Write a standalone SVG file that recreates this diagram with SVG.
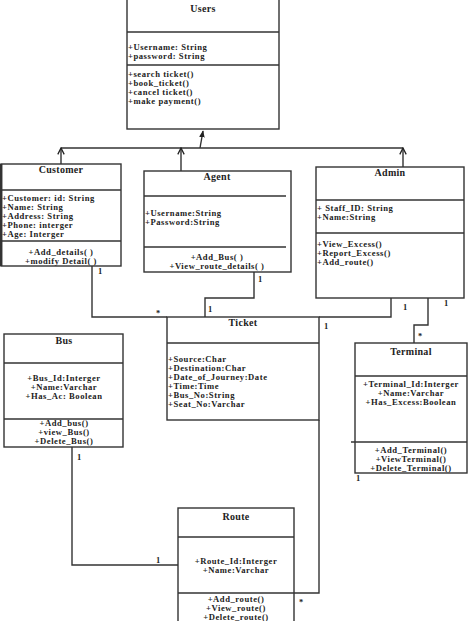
<svg xmlns="http://www.w3.org/2000/svg" width="474" height="621" viewBox="0 0 474 621">
<defs>
<style>
.box{fill:#fff;stroke:#333;stroke-width:1.4}
.div{stroke:#333;stroke-width:1.4;fill:none}
.con{stroke:#333;stroke-width:1.4;fill:none}
text{font-family:"Liberation Serif","Times New Roman",serif;font-weight:bold;font-size:8.6px;letter-spacing:0.55px;fill:#222}
.t{font-size:10px;letter-spacing:0.3px;text-anchor:middle}
.c{text-anchor:middle}
.m{font-size:8.5px;letter-spacing:0}
</style>
<marker id="open" viewBox="0 0 10 10" refX="9" refY="5" markerWidth="8" markerHeight="8" orient="auto" markerUnits="userSpaceOnUse">
<path d="M1,1 L9,5 L1,9" fill="none" stroke="#222" stroke-width="1.6"/>
</marker>
<marker id="fill" viewBox="0 0 10 10" refX="9" refY="5" markerWidth="7" markerHeight="7" orient="auto" markerUnits="userSpaceOnUse">
<path d="M0,1 L10,5 L0,9 Z" fill="#222"/>
</marker>
</defs>
<rect width="474" height="621" fill="#fff"/>

<g id="connectors">
<line class="con" x1="200" y1="148" x2="203" y2="131" marker-end="url(#fill)"/>
<line class="con" x1="61" y1="148" x2="403" y2="148"/>
<line class="con" x1="61" y1="164" x2="61" y2="148" marker-end="url(#open)"/>
<line class="con" x1="181" y1="171" x2="181" y2="148" marker-end="url(#open)"/>
<line class="con" x1="403" y1="167" x2="403" y2="148" marker-end="url(#open)"/>
<polyline class="con" points="92,266 92,317 167,317"/>
<polyline class="con" points="254,272 254,298 205,298 205,317"/>
<polyline class="con" points="391,298 391,317 319,317"/>
<polyline class="con" points="428,298 428,325 414,325 414,343"/>
<polyline class="con" points="319,420 319,593 294,593"/>
<polyline class="con" points="72,447 72,565 178,565"/>
<text class="m" x="98" y="274">1</text>
<text class="m" x="156" y="316">*</text>
<text class="m" x="258" y="282">1</text>
<text class="m" x="208" y="312">1</text>
<text class="m" x="403" y="310">1</text>
<text class="m" x="324" y="329">1</text>
<text class="m" x="444" y="306">1</text>
<text class="m" x="418" y="339">*</text>
<text class="m" x="356" y="481">1</text>
<text class="m" x="77" y="460">1</text>
<text class="m" x="156" y="563">1</text>
<text class="m" x="299" y="605">*</text>
</g>

<g id="users">
<rect class="box" x="127" y="-1" width="152" height="130"/>
<line class="div" x1="127" y1="32" x2="279" y2="32"/>
<line class="div" x1="127" y1="65" x2="279" y2="65"/>
<text class="t" x="203" y="12">Users</text>
<text x="128" y="50">+Username: String</text>
<text x="128" y="59">+password: String</text>
<text x="128" y="77">+search ticket()</text>
<text x="128" y="86">+book_ticket()</text>
<text x="128" y="95">+cancel ticket()</text>
<text x="128" y="104">+make payment()</text>
</g>

<g id="customer">
<rect class="box" x="1" y="164" width="120" height="102"/>
<line x1="1.2" y1="164" x2="1.2" y2="266" stroke="#333" stroke-width="2.5"/>
<line class="div" x1="1" y1="190" x2="121" y2="190"/>
<line class="div" x1="1" y1="241" x2="121" y2="241"/>
<text class="t" x="61" y="173">Customer</text>
<text x="2" y="200.5">+Customer: id: String</text>
<text x="2" y="209.5">+Name: String</text>
<text x="2" y="218.5">+Address: String</text>
<text x="2" y="227.5">+Phone: interger</text>
<text x="2" y="236.5">+Age: Interger</text>
<text class="c" x="61" y="255">+Add_details( )</text>
<text class="c" x="61" y="264">+modify Detail( )</text>
</g>

<g id="agent">
<rect class="box" x="144" y="171" width="147" height="101"/>
<line class="div" x1="144" y1="196" x2="286" y2="196"/>
<line class="div" x1="144" y1="247" x2="286" y2="247"/>
<text class="t" x="217" y="180">Agent</text>
<text x="145" y="216">+Username:String</text>
<text x="145" y="225">+Password:String</text>
<text class="c" x="217" y="260">+Add_Bus( )</text>
<text class="c" x="217" y="269">+View_route_details( )</text>
</g>

<g id="admin">
<rect class="box" x="316" y="167" width="148" height="131"/>
<line class="div" x1="316" y1="200" x2="464" y2="200"/>
<line class="div" x1="316" y1="233" x2="464" y2="233"/>
<text class="t" x="390" y="176">Admin</text>
<text x="317" y="211">+ Staff_ID: String</text>
<text x="317" y="220">+Name:String</text>
<text x="317" y="247">+View_Excess()</text>
<text x="317" y="256">+Report_Excess()</text>
<text x="317" y="265">+Add_route()</text>
</g>

<g id="ticket">
<rect class="box" x="167" y="317" width="152" height="103"/>
<line class="div" x1="167" y1="343" x2="319" y2="343"/>
<text class="t" x="243" y="326">Ticket</text>
<text x="168" y="362">+Source:Char</text>
<text x="168" y="371">+Destination:Char</text>
<text x="168" y="380">+Date_of_Journey:Date</text>
<text x="168" y="389">+Time:Time</text>
<text x="168" y="398">+Bus_No:String</text>
<text x="168" y="407">+Seat_No:Varchar</text>
</g>

<g id="bus">
<rect class="box" x="4" y="334" width="119" height="113"/>
<line class="div" x1="4" y1="363" x2="123" y2="363"/>
<line class="div" x1="4" y1="419" x2="123" y2="419"/>
<text class="t" x="64" y="344">Bus</text>
<text class="c" x="64" y="381">+Bus_Id:Interger</text>
<text class="c" x="64" y="390">+Name:Varchar</text>
<text class="c" x="64" y="399">+Has_Ac: Boolean</text>
<text class="c" x="64" y="426">+Add_bus()</text>
<text class="c" x="64" y="435">+view_Bus()</text>
<text class="c" x="64" y="444">+Delete_Bus()</text>
</g>

<g id="terminal">
<rect class="box" x="355" y="343" width="112" height="130"/>
<line class="div" x1="355" y1="376" x2="467" y2="376"/>
<line class="div" x1="351" y1="442" x2="467" y2="442"/>
<text class="t" x="411" y="355">Terminal</text>
<text class="c" x="411" y="387">+Terminal_Id:Interger</text>
<text class="c" x="411" y="396">+Name:Varchar</text>
<text class="c" x="411" y="405">+Has_Excess:Boolean</text>
<text class="c" x="411" y="453">+Add_Terminal()</text>
<text class="c" x="411" y="462">+ViewTerminal()</text>
<text class="c" x="411" y="471">+Delete_Terminal()</text>
</g>

<g id="route">
<rect class="box" x="178" y="508" width="116" height="120"/>
<line class="div" x1="178" y1="537" x2="294" y2="537"/>
<line class="div" x1="178" y1="593" x2="294" y2="593"/>
<text class="t" x="236" y="520">Route</text>
<text class="c" x="236" y="564">+Route_Id:Interger</text>
<text class="c" x="236" y="573">+Name:Varchar</text>
<text class="c" x="236" y="602">+Add_route()</text>
<text class="c" x="236" y="611">+View_route()</text>
<text class="c" x="236" y="620">+Delete_route()</text>
</g>
</svg>
